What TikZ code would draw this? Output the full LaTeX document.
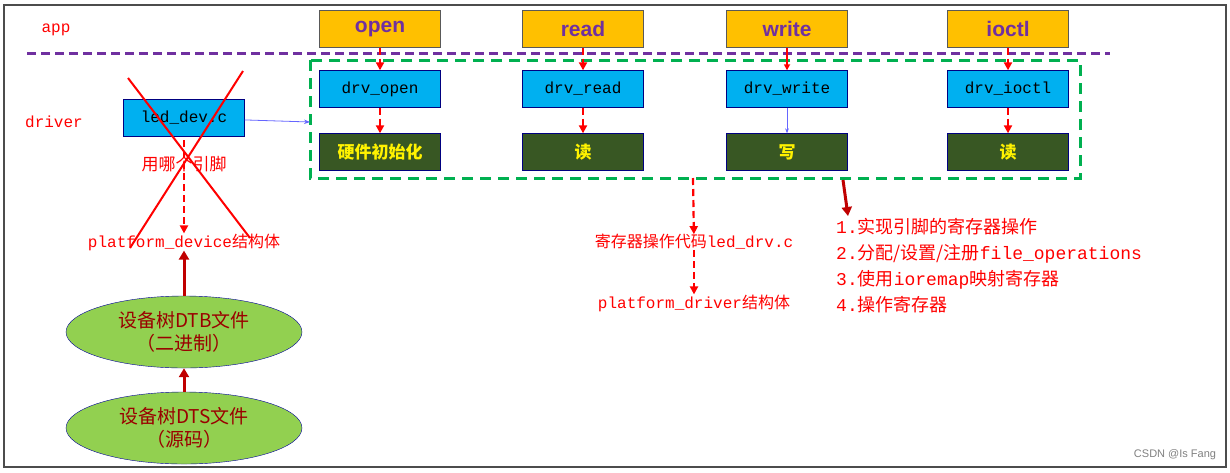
\documentclass[tikz,border=0pt]{standalone}
\usepackage{fontspec}
\setmainfont{Liberation Sans}
\newfontfamily\cjk{Noto Sans CJK SC}
\newfontfamily\mono{Liberation Mono}
\usetikzlibrary{arrows.meta,shapes.geometric}
\definecolor{rd}{RGB}{255,0,0}
\definecolor{drk}{RGB}{192,0,0}
\definecolor{orng}{RGB}{255,192,0}
\definecolor{sky}{RGB}{0,176,240}
\definecolor{olive}{RGB}{56,87,35}
\definecolor{grn}{RGB}{0,176,80}
\definecolor{purp}{RGB}{112,48,160}
\definecolor{lg}{RGB}{146,208,80}
\begin{document}
\begin{tikzpicture}[x=1pt,y=-1pt,
 top/.style={draw=gray!70!black,fill=orng,minimum width=121pt,minimum height=37pt,inner sep=0,font=\bfseries\fontsize{21}{21}\selectfont,text=purp},
 drv/.style={draw=blue!50!black,fill=sky,minimum width=121pt,minimum height=37pt,inner sep=0,font=\mono\fontsize{16}{16}\selectfont},
 hw/.style={draw=blue!50!black,fill=olive,minimum width=121pt,minimum height=37pt,inner sep=0,font=\cjk\bfseries\fontsize{17}{17}\selectfont,text=yellow},
 ell/.style={ellipse,draw=blue!60!black,fill=lg,minimum width=236pt,minimum height=72pt,inner sep=0,align=center,font=\cjk\fontsize{19}{23}\selectfont,text=drk!80!black},
 rdarr/.style={-{Triangle[length=8pt,width=8pt]},draw=rd,line width=2.2pt,dash pattern=on 7pt off 4pt},
 lbl/.style={text=rd,inner sep=0,font=\fontsize{16}{16}\selectfont},
 darr/.style={-{Triangle[length=9pt,width=10pt]},draw=drk,line width=3pt}]
\useasboundingbox (0,0) rectangle (1230,472);
\draw[gray!60!black,line width=1.2pt] (4,5) rectangle (1226,467);
\node[lbl,font=\mono\fontsize{16}{16}\selectfont] (app) at (56,30) {app};
\node[lbl,font=\mono\fontsize{16}{16}\selectfont] (driver) at (54,122) {driver};
\draw[purp,line width=3pt,dash pattern=on 9pt off 5pt] (27,53) -- (1110,53);
\draw[grn,line width=3pt,dash pattern=on 11pt off 7pt] (310,60) rectangle (1080,178);
\foreach \n/\x/\t/\d/\h in {o/380/open/drv\_open/{硬件初始化},r/583/read/drv\_read/读,w/787/write/drv\_write/写,i/1008/ioctl/drv\_ioctl/读/写}{
 \node[top] (t\n) at (\x,29) {\t};
 \node[drv] (d\n) at (\x,89) {\d};
 \node[hw] (h\n) at (\x,152) {\h};
}
\foreach \n in {o,r,i}{
 \draw[rdarr] (t\n) -- (d\n);
 \draw[rdarr] (d\n) -- (h\n);
}
\draw[-{Triangle[length=6pt,width=6pt]},draw=rd,line width=2pt] (tw) -- (dw);
\draw[-{Stealth[length=5pt]},draw=blue!60,line width=0.8pt] (dw) -- (hw);
\node[drv] (led) at (184,118) {led\_dev.c};
\coordinate (gl) at (310,122);
\draw[-{Stealth[length=6pt]},blue!60,line width=0.8pt] (led) -- (gl);
\node[lbl,font=\cjk\fontsize{17}{17}\selectfont] (pin) at (184,164) {用哪个引脚};
\node[lbl] (pdev) at (184,242) {{\mono platform\_device}{\cjk 结构体}};
\coordinate (ps) at (184,140);
\draw[rdarr] (ps) -- (pdev);
\draw[rd,line width=2pt] (128,78) -- (250,238);
\draw[rd,line width=2pt] (243,71) -- (130,248);
\node[ell] (dtb) at (184,332) {设备树DTB文件\\（二进制）};
\node[ell] (dts) at (184,428) {设备树DTS文件\\（源码）};
\draw[darr] (dtb) -- (pdev);
\draw[darr] (dts) -- (dtb);
\coordinate (gs) at (693,178);
\node[lbl] (reg) at (694,242) {{\cjk 寄存器操作代码}{\mono led\_drv.c}};
\node[lbl] (pdrv) at (694,303) {{\mono platform\_driver}{\cjk 结构体}};
\draw[rdarr] (gs) -- (reg);
\draw[rdarr] (reg) -- (pdrv);
\coordinate (ga) at (843,180);
\coordinate (gb) at (848,216);
\draw[darr] (ga) -- (gb);
\node[lbl,anchor=north west,align=left,font=\fontsize{18}{26}\selectfont] (list) at (836,218)
 {{\mono 1.}{\cjk 实现引脚的寄存器操作}\\
  {\mono 2.}{\cjk 分配/设置/注册}{\mono file\_operations}\\
  {\mono 3.}{\cjk 使用}{\mono ioremap}{\cjk 映射寄存器}\\
  {\mono 4.}{\cjk 操作寄存器}};
\node[text=gray,inner sep=0,font=\fontsize{11}{11}\selectfont] (csdn) at (1175,455) {CSDN @Is Fang};
\end{tikzpicture}
\end{document}
